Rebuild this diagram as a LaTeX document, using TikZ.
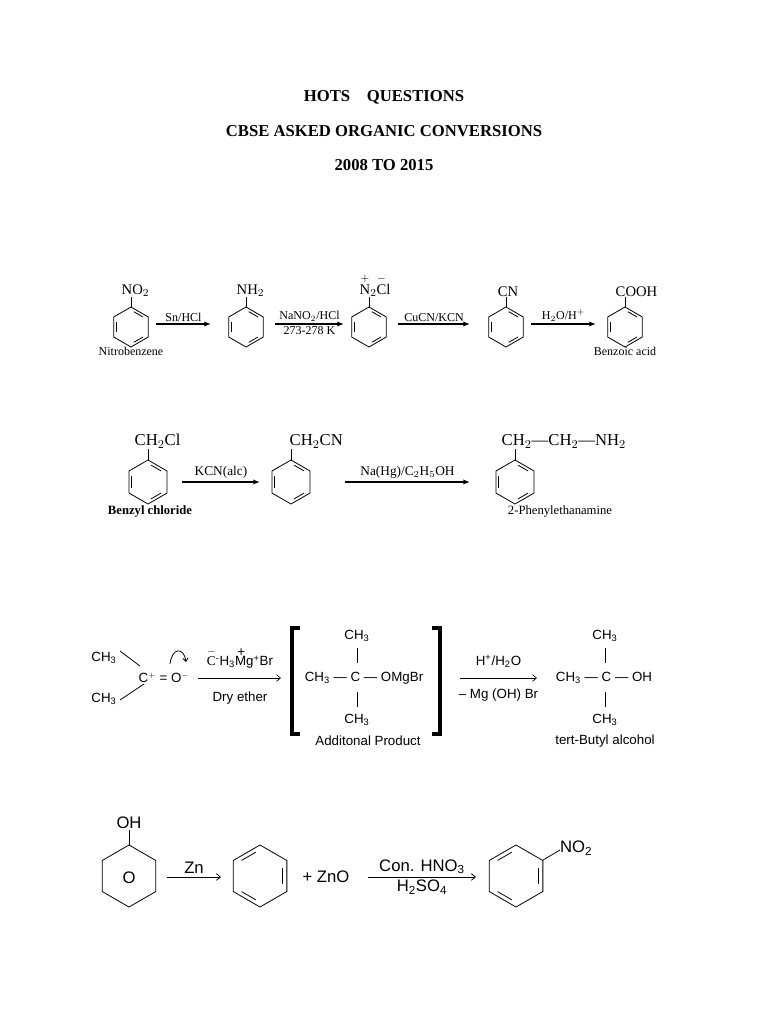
\documentclass[tikz,border=0pt]{standalone}
\usepackage{amsmath}
\usepackage{fontspec}
\setmainfont{Liberation Serif}
\newfontfamily\arl{Liberation Sans}
\usetikzlibrary{arrows.meta}
\newcommand\ring[4]{%
\begin{scope}[shift={(#1,#2)}]
\draw (-90:#3)--(-30:#3)--(30:#3)--(90:#3)--(150:#3)--(210:#3)--cycle;
\foreach \a/\b in {#4} \draw ({\a+10}:{0.78*#3})--({\b-10}:{0.78*#3});
\end{scope}}
\newcommand\ts[1]{\textsubscript{#1}}
\tikzset{
 ttl/.style={font=\fontsize{12.5}{15}\selectfont\bfseries},
 sub/.style={font=\fontsize{11}{13}\selectfont, inner sep=1pt},
 rg/.style={font=\fontsize{9}{10}\selectfont, inner sep=1.5pt},
 nm/.style={font=\fontsize{9}{10}\selectfont},
 sub2/.style={font=\fontsize{12.5}{14}\selectfont, inner sep=1pt},
 rg2/.style={font=\fontsize{10}{12}\selectfont, inner sep=2pt},
 nm2/.style={font=\fontsize{9.5}{11}\selectfont},
 sf/.style={font=\arl\fontsize{10}{12}\selectfont, inner sep=1pt},
 sf4/.style={font=\arl\fontsize{12.5}{14}\selectfont, inner sep=2pt},
 rx/.style={-{Latex[length=5pt,width=4pt]}, line width=1.1pt},
 rx3/.style={-{Straight Barb[length=3pt,width=5pt]}, line width=0.5pt},
}
\begin{document}
\begin{tikzpicture}[x=0.75pt,y=-0.75pt, line width=0.6pt]
\useasboundingbox (0,0) rectangle (768,1024);
% titles
\node[ttl] (t1) at (384,97) {HOTS\quad QUESTIONS};
\node[ttl] (t2) at (384,131) {CBSE ASKED ORGANIC CONVERSIONS};
\node[ttl] (t3) at (384,165) {2008 TO 2015};
% row 1
\foreach \x in {131,246,369,506,625} {\ring{\x}{327}{20}{150/210,-90/-30,30/90}}
\draw (131,307)--(131,297); \node[sub,anchor=south west] (s1) at (120,298) {NO$_2$};
\draw (246,307)--(246,297); \node[sub,anchor=south west] (s2) at (235,298) {NH$_2$};
\draw (369,307)--(369,297); \node[sub,anchor=south west] (s3) at (358,298) {$\overset{+}{\mathrm{N}}_2\overset{-}{\mathrm{C}}$l};
\draw (506,307)--(506,297); \node[sub,anchor=south] (s4) at (508,298) {CN};
\draw (625,307)--(625,297); \node[sub,anchor=south west] (s5) at (614,298) {COOH};
\node[nm] (n1) at (131,351) {Nitrobenzene};
\node[nm] (n5) at (625,351) {Benzoic acid};
\coordinate (a1s) at (156,324); \coordinate (a1e) at (211,324);
\draw[rx] (a1s)--node[rg,above]{Sn/HCl}(a1e);
\coordinate (a2s) at (275,324); \coordinate (a2e) at (344,324);
\draw[rx] (a2s)--node[rg,above]{NaNO$_2$/HCl}node[rg,below]{273-278 K}(a2e);
\coordinate (a3s) at (398,324); \coordinate (a3e) at (470,324);
\draw[rx] (a3s)--node[rg,above]{CuCN/KCN}(a3e);
\coordinate (a4s) at (531,324); \coordinate (a4e) at (596,324);
\draw[rx] (a4s)--node[rg,above]{H$_2$O/H$^+$}(a4e);
% row 2
\foreach \x in {148,291,515} {\ring{\x}{482}{22}{150/210,-90/-30,30/90}}
\draw (148,460)--(148,449); \node[sub2,anchor=south west] (r1) at (133,450) {CH$_2$Cl};
\draw (291,460)--(291,449); \node[sub2,anchor=south west] (r2) at (288,450) {CH$_2$CN};
\draw (515,460)--(515,449); \node[sub2,anchor=south west] (r3) at (500,450) {CH$_2$---CH$_2$---NH$_2$};
\node[nm2,font=\fontsize{9.5}{11}\selectfont\bfseries] (m1) at (150,511) {Benzyl chloride};
\node[nm2] (m3) at (560,511) {2-Phenylethanamine};
\coordinate (b1s) at (182,482); \coordinate (b1e) at (260,482);
\draw[rx] (b1s)--node[rg2,above]{KCN(alc)}(b1e);
\coordinate (b2s) at (345,482); \coordinate (b2e) at (470,482);
\draw[rx] (b2s)--node[rg2,above]{Na(Hg)/C$_2$H$_5$OH}(b2e);
% row 3
\node[sf] (m1a) at (104,658) {CH\ts{3}};
\node[sf] (m1b) at (104,699) {CH\ts{3}};
\node[sf] (cp) at (164,678) {C$^{\scriptscriptstyle+}$ = O$^{\scriptscriptstyle-}$};
\draw (120,651)--(140,666);
\draw (120,700)--(144,684);
\draw[-{Straight Barb[length=2.5pt,width=4pt]}] (170,664) .. controls (172,647) and (184,647) .. (186,662);
\node[sf] (g1) at (240,658) {$\overset{-}{\mathrm{C}}$\textsuperscript{-}H\ts{3}\rlap{\raisebox{1.3ex}{\,+}}Mg\textsuperscript{+}Br};
\node[sf] (g2) at (240,698) {Dry ether};
\coordinate (c1s) at (198,678); \coordinate (c1e) at (281,678);
\draw[rx3] (c1s)--(c1e);
\draw[line width=2.6pt] (300,628)--(292,628)--(292,734)--(300,734);
\draw[line width=2.6pt] (432,628)--(440,628)--(440,734)--(432,734);
\node[sf] (i0) at (364,678) {CH\ts{3} — C — OMgBr};
\node[sf] (i1) at (357,636) {CH\ts{3}};
\node[sf] (i2) at (357,720) {CH\ts{3}};
\draw (357,648)--(357,663); \draw (357,692)--(357,707);
\node[sf] (i3) at (368,741) {Additonal Product};
\coordinate (c2s) at (460,678); \coordinate (c2e) at (537,678);
\draw[rx3] (c2s)--node[sf,above=7pt]{H\textsuperscript{+}/H\ts{2}O}node[sf,below=7pt]{– Mg (OH) Br}(c2e);
\node[sf] (p0) at (604,678) {CH\ts{3} — C — OH};
\node[sf] (p1) at (605,636) {CH\ts{3}};
\node[sf] (p2) at (605,720) {CH\ts{3}};
\draw (605,648)--(605,663); \draw (605,692)--(605,707);
\node[sf] (p3) at (605,741) {tert-Butyl alcohol};
% row 4
\ring{129}{876}{31}{}
\draw (129,845)--(129,830); \node[sf4,anchor=south] (oh) at (129,832) {OH};
\node[sf4] (o) at (129,878) {O};
\coordinate (d1s) at (167,877); \coordinate (d1e) at (221,877);
\draw[rx3,line width=0.6pt] (d1s)--node[sf4,above]{Zn}(d1e);
\ring{260}{876}{31}{210/270,-30/30,90/150}
\node[sf4] (zno) at (326,877) {+ ZnO};
\coordinate (d2s) at (368,877); \coordinate (d2e) at (476,877);
\draw[rx3,line width=0.6pt] (d2s)--node[sf4,above]{Con. HNO\ts{3}}node[sf4,below]{H\ts{2}SO\ts{4}}(d2e);
\ring{516}{876}{31}{210/270,-30/30,90/150}
\draw (543,860)--(560,850); \node[sf4,anchor=west] (no2) at (557,848) {NO\ts{2}};
\end{tikzpicture}
\end{document}
